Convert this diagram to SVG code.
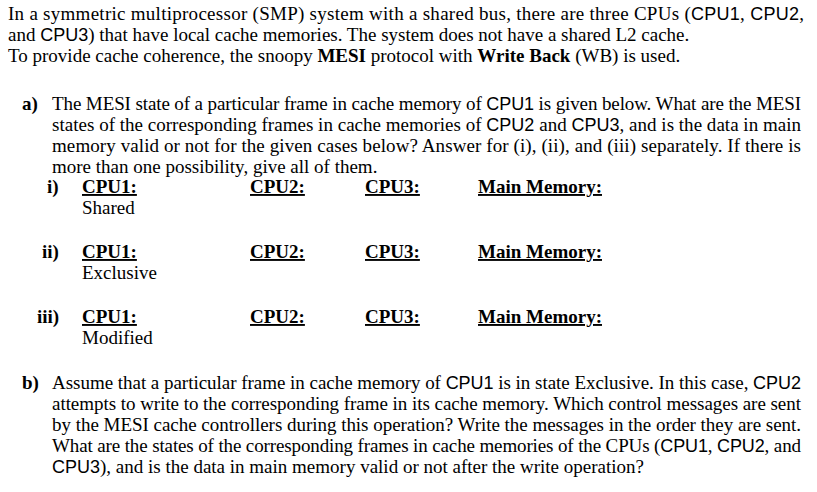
<svg xmlns="http://www.w3.org/2000/svg" width="817" height="492" viewBox="0 0 817 492">
<style>
text{font-family:"Liberation Serif",serif;font-size:19px;fill:#000}
.s{font-family:"Liberation Sans",sans-serif;font-size:18px}
.b{font-weight:bold}
.u{font-weight:bold;text-decoration:underline}
</style>
<rect width="817" height="492" fill="#fff"/>
<g id="intro">
<text x="8" y="20" textLength="796" lengthAdjust="spacing">In a symmetric multiprocessor (SMP) system with a shared bus, there are three CPUs (<tspan class="s">CPU1</tspan>, <tspan class="s">CPU2</tspan>,</text>
<text x="8" y="41">and <tspan class="s">CPU3</tspan>) that have local cache memories. The system does not have a shared L2 cache.</text>
<text x="8" y="62">To provide cache coherence, the snoopy <tspan class="b">MESI</tspan> protocol with <tspan class="b">Write Back</tspan> (WB) is used.</text>
</g>
<g id="partA">
<text x="22" y="110" class="b">a)</text>
<text x="52" y="110" textLength="749" lengthAdjust="spacing">The MESI state of a particular frame in cache memory of <tspan class="s">CPU1</tspan> is given below. What are the MESI</text>
<text x="52" y="131" textLength="749" lengthAdjust="spacing">states of the corresponding frames in cache memories of <tspan class="s">CPU2</tspan> and <tspan class="s">CPU3</tspan>, and is the data in main</text>
<text x="52" y="152" textLength="749" lengthAdjust="spacing">memory valid or not for the given cases below? Answer for (i), (ii), and (iii) separately. If there is</text>
<text x="52" y="173">more than one possibility, give all of them.</text>
</g>
<g id="row-i">
<text x="47" y="193" class="b">i)</text>
<text x="82" y="193" class="u">CPU1:</text>
<text x="250" y="193" class="u">CPU2:</text>
<text x="365" y="193" class="u">CPU3:</text>
<text x="478" y="193" class="u">Main Memory:</text>
<text x="82" y="214">Shared</text>
</g>
<g id="row-ii">
<text x="42" y="258" class="b">ii)</text>
<text x="82" y="258" class="u">CPU1:</text>
<text x="250" y="258" class="u">CPU2:</text>
<text x="365" y="258" class="u">CPU3:</text>
<text x="478" y="258" class="u">Main Memory:</text>
<text x="82" y="279">Exclusive</text>
</g>
<g id="row-iii">
<text x="37" y="323" class="b">iii)</text>
<text x="82" y="323" class="u">CPU1:</text>
<text x="250" y="323" class="u">CPU2:</text>
<text x="365" y="323" class="u">CPU3:</text>
<text x="478" y="323" class="u">Main Memory:</text>
<text x="82" y="344">Modified</text>
</g>
<g id="partB">
<text x="22" y="389" class="b">b)</text>
<text x="52" y="389" textLength="749" lengthAdjust="spacing">Assume that a particular frame in cache memory of <tspan class="s">CPU1</tspan> is in state Exclusive. In this case, <tspan class="s">CPU2</tspan></text>
<text x="52" y="410" textLength="749" lengthAdjust="spacing">attempts to write to the corresponding frame in its cache memory. Which control messages are sent</text>
<text x="52" y="431" textLength="749" lengthAdjust="spacing">by the MESI cache controllers during this operation? Write the messages in the order they are sent.</text>
<text x="52" y="452" textLength="749" lengthAdjust="spacing">What are the states of the corresponding frames in cache memories of the CPUs (<tspan class="s">CPU1</tspan>, <tspan class="s">CPU2</tspan>, and</text>
<text x="52" y="473"><tspan class="s">CPU3</tspan>), and is the data in main memory valid or not after the write operation?</text>
</g>
</svg>
